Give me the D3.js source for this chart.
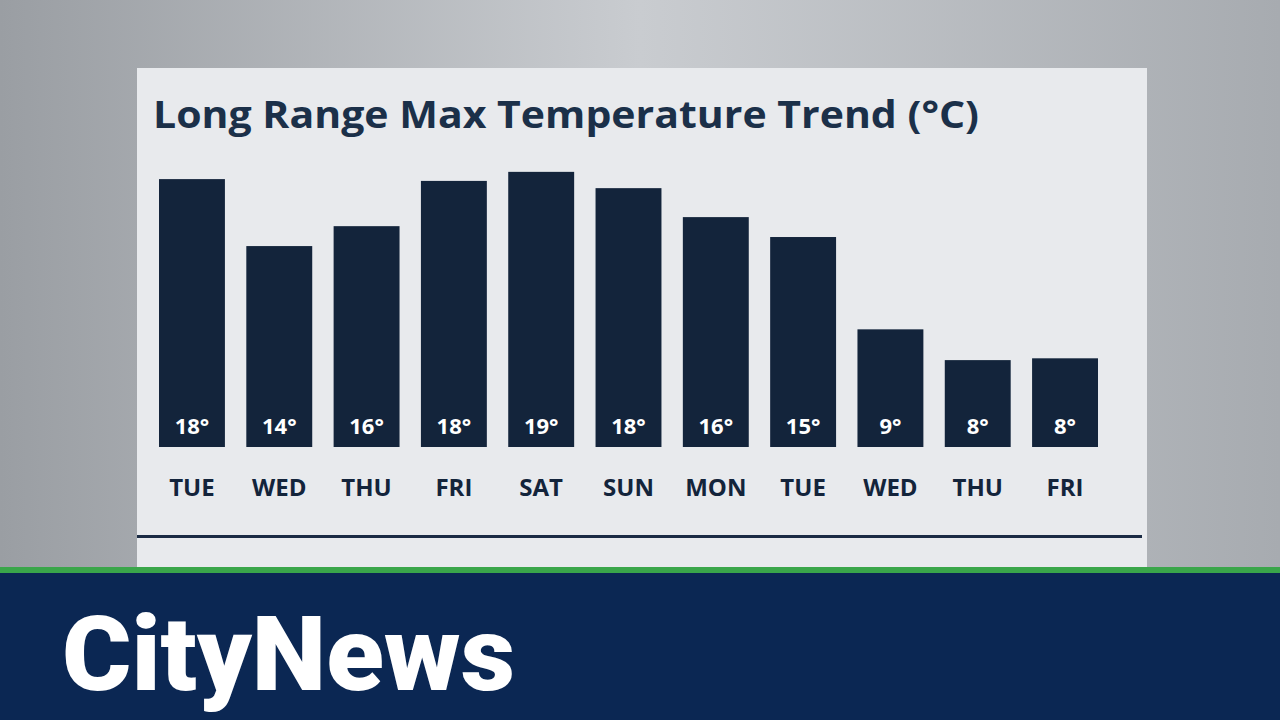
<!DOCTYPE html>
<html><head><meta charset="utf-8">
<script src="https://cdn.jsdelivr.net/npm/d3@7"></script>
<style>body{margin:0;background:#888}</style></head>
<body><svg id="c" width="1280" height="720"></svg>
<script>
const days = ["TUE","WED","THU","FRI","SAT","SUN","MON","TUE","WED","THU","FRI"];
const labels = [18,14,16,18,19,18,16,15,9,8,8];
const barValues = [18.0,14.3,15.4,17.9,18.4,17.5,15.9,14.8,9.7,8.0,8.1];
const svg = d3.select("#c");
const defs = svg.append("defs");
const g1 = defs.append("linearGradient").attr("id","bg").attr("x1",0).attr("x2",1);
g1.append("stop").attr("offset",0).attr("stop-color","#9a9ea3");
g1.append("stop").attr("offset",0.5).attr("stop-color","#c9ccd0");
g1.append("stop").attr("offset",1).attr("stop-color","#a7abb0");
svg.append("rect").attr("width",1280).attr("height",720).attr("fill","url(#bg)");
svg.append("rect").attr("x",137).attr("y",68).attr("width",1010).attr("height",505).attr("fill","#e8eaed");
svg.append("text").attr("x",153).attr("y",128).text("Long Range Max Temperature Trend (°C)")
  .attr("font-family","Open Sans, Lato, sans-serif").attr("font-weight",700).attr("font-size",37)
  .attr("textLength",826).attr("lengthAdjust","spacingAndGlyphs").attr("fill","#1b3049");
const x = d3.scaleBand().domain(d3.range(days.length)).range([159,1098]).paddingInner(0.245).paddingOuter(0);
const y = d3.scaleLinear().domain([3.2,19]).range([447,161]);
svg.selectAll(".bar").data(barValues).join("rect").attr("x",(d,i)=>x(i)).attr("width",x.bandwidth())
  .attr("y",d=>y(d)).attr("height",d=>447-y(d)).attr("fill","#13243b");
svg.selectAll(".lab").data(labels).join("text").attr("x",(d,i)=>x(i)+x.bandwidth()/2).attr("y",434)
  .attr("text-anchor","middle").attr("fill","#fff").attr("font-family","Open Sans, sans-serif").attr("font-weight",700).attr("font-size",22).text(d=>d+"°");
svg.selectAll(".day").data(days).join("text").attr("x",(d,i)=>x(i)+x.bandwidth()/2).attr("y",496)
  .attr("text-anchor","middle").attr("fill","#13243b").attr("font-family","Open Sans, sans-serif").attr("font-weight",700).attr("font-size",24).text(d=>d);
svg.append("rect").attr("x",137).attr("y",535).attr("width",1005).attr("height",3).attr("fill","#1b2b44");
svg.append("rect").attr("x",0).attr("y",567).attr("width",1280).attr("height",6).attr("fill","#3aa64a");
svg.append("rect").attr("x",0).attr("y",573).attr("width",1280).attr("height",147).attr("fill","#0b2753");
svg.append("text").attr("x",62).attr("y",690).text("CityNews").attr("fill","#fff")
  .attr("font-family","Roboto, Open Sans, sans-serif").attr("font-weight",900).attr("font-size",104)
  .attr("textLength",453).attr("lengthAdjust","spacingAndGlyphs");
</script></body></html>
